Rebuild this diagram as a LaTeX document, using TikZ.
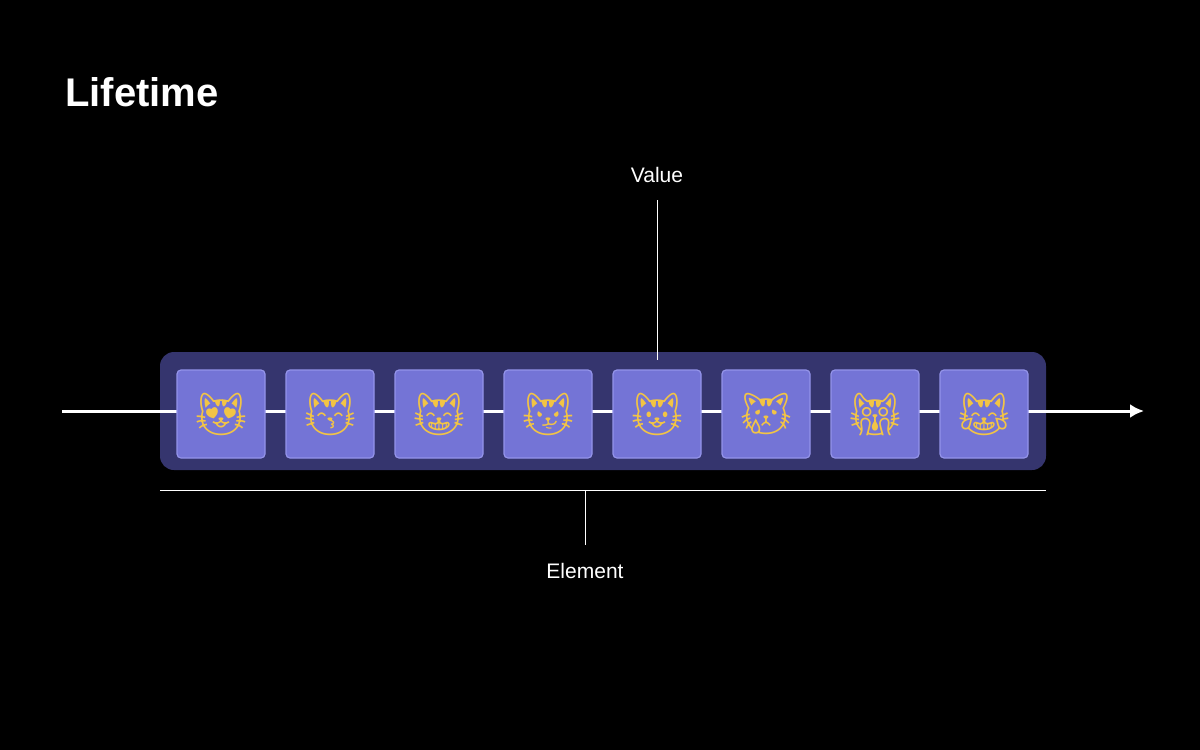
\documentclass[tikz,border=0pt]{standalone}
\usepackage{fontspec}
\setmainfont{Liberation Sans}
\newfontfamily\emo{Noto Emoji}
\usetikzlibrary{arrows.meta}
\definecolor{outerc}{HTML}{35356E}
\definecolor{innerc}{HTML}{7474D6}
\definecolor{innerb}{HTML}{9494EA}
\definecolor{catc}{HTML}{F2C445}
\tikzset{
  cell/.style={fill=innerc,draw=innerb,line width=0.6pt,rounded corners=2pt,minimum width=44pt,minimum height=44pt,inner sep=0pt,text=catc,font=\emo\fontsize{22}{22}\selectfont},
  lbl/.style={text=white,font=\fontsize{10.5}{12}\selectfont,inner sep=0pt},
  thin/.style={draw=white,line width=0.5pt}
}
\begin{document}
\begin{tikzpicture}[x=0.5pt,y=-0.5pt]
\fill[black] (0,0) rectangle (1200,750);
\useasboundingbox (0,0) rectangle (1200,750);
\node[anchor=base west,text=white,font=\bfseries\fontsize{20}{24}\selectfont,inner sep=0pt] (title) at (65,106) {Lifetime};
\node[fill=outerc,rounded corners=7pt,minimum width=443pt,minimum height=59pt,inner sep=0pt] (outer) at (603,411) {};
\coordinate (s) at (62,411);
\coordinate (e) at (1144,411);
\draw[white,line width=1.5pt,-{Latex[length=7pt,width=7pt]}] (s) -- (e);
\foreach \i/\c in {0/😻,1/😽,2/😸,3/😼,4/😺,5/😿,6/🙀,7/😹}{
  \node[cell] (c\i) at (221+109*\i,414) {\c};
}
\node[lbl] (value) at (657,175) {Value};
\coordinate (v1) at (657,200);
\coordinate (v2) at (657,360);
\draw[thin] (v1) -- (v2);
\coordinate (b1) at (160,490);
\coordinate (b2) at (1046,490);
\coordinate (b3) at (585,490);
\coordinate (b4) at (585,545);
\draw[thin] (b1) -- (b2);
\draw[thin] (b3) -- (b4);
\node[lbl] (element) at (585,571) {Element};
\end{tikzpicture}
\end{document}
